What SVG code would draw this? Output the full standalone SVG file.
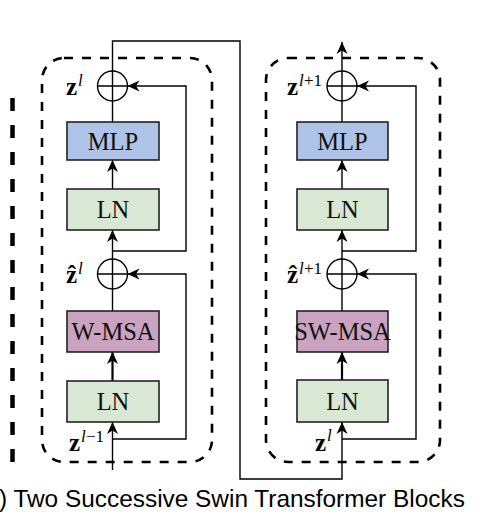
<svg xmlns="http://www.w3.org/2000/svg" width="502" height="522" viewBox="0 0 502 522">
<defs>
<marker id="arr" markerUnits="userSpaceOnUse" markerWidth="16" markerHeight="14" viewBox="-13 -7 16 14" refX="0" refY="0" orient="auto">
<path d="M0,0 L-12,-5.5 L-8.5,0 L-12,5.5 Z" fill="#000"/>
</marker>
</defs>
<style>
.blk{fill:none;stroke:#000;stroke-width:2.6;stroke-dasharray:9 9}
.box{stroke:#222;stroke-width:1.6}
.mlp{fill:#afc3e6}
.ln{fill:#d9e8d5}
.msa{fill:#c9a3bf}
.bt{font-family:"Liberation Serif",serif;font-size:24.5px;text-anchor:middle;fill:#111}
.w{fill:none;stroke:#000;stroke-width:1.4}
.wt{fill:none;stroke:#000;stroke-width:2.2}
.z{font-family:"Liberation Serif",serif;font-weight:bold;font-size:25px;fill:#000}
.s{font-family:"Liberation Serif",serif;font-style:italic;font-size:17px;fill:#000}
.sn{font-family:"Liberation Serif",serif;font-size:17px;fill:#000}
.add{fill:none;stroke:#000;stroke-width:1.4}
.cap{font-family:"Liberation Sans",Arial,sans-serif;font-size:24.4px;fill:#000}
</style>

<line x1="12.5" y1="98" x2="12.5" y2="468" stroke="#000" stroke-width="4.5" stroke-dasharray="13 14"/>

<rect id="block1" class="blk" x="42" y="58" width="170" height="404" rx="22" ry="22"/>
<rect id="block2" class="blk" x="266" y="58" width="174" height="404" rx="22" ry="22"/>

<g id="connectors">
<path class="w" d="M112.5,470 V422" marker-end="url(#arr)"/>
<path class="w" d="M112.5,439 H186 V274 H127.5" marker-end="url(#arr)"/>
<path class="wt" d="M112.5,381 V352" marker-end="url(#arr)"/>
<path class="w" d="M112.5,311 V289"/>
<path class="w" d="M112.5,259 V230" marker-end="url(#arr)"/>
<path class="w" d="M112.5,251 H186 V86 H127.5" marker-end="url(#arr)"/>
<path class="w" d="M112.5,189 V160" marker-end="url(#arr)"/>
<path class="w" d="M112.5,122 V101"/>
<path class="w" d="M112.5,71 V41 H240 V479 H342 V422" marker-end="url(#arr)"/>
<path class="w" d="M342,439 H416 V274 H357" marker-end="url(#arr)"/>
<path class="wt" d="M342,381 V352" marker-end="url(#arr)"/>
<path class="w" d="M342,311 V289"/>
<path class="w" d="M342,259 V230" marker-end="url(#arr)"/>
<path class="w" d="M342,251 H416 V86 H357" marker-end="url(#arr)"/>
<path class="w" d="M342,189 V160" marker-end="url(#arr)"/>
<path class="w" d="M342,122 V101"/>
<path class="w" d="M342,71 V42" marker-end="url(#arr)"/>
</g>

<g id="add1"><circle class="add" cx="112.5" cy="86" r="15"/><path class="add" d="M97.5,86 H127.5 M112.5,71 V101"/></g>
<g id="add2"><circle class="add" cx="112.5" cy="274" r="15"/><path class="add" d="M97.5,274 H127.5 M112.5,259 V289"/></g>
<g id="add3"><circle class="add" cx="342" cy="86" r="15"/><path class="add" d="M327,86 H357 M342,71 V101"/></g>
<g id="add4"><circle class="add" cx="342" cy="274" r="15"/><path class="add" d="M327,274 H357 M342,259 V289"/></g>

<g id="mlp1"><rect class="box mlp" x="67" y="122" width="92" height="38"/><text class="bt" x="113" y="149.5">MLP</text></g>
<g id="ln1b"><rect class="box ln" x="67" y="189" width="92" height="41"/><text class="bt" x="113" y="218">LN</text></g>
<g id="wmsa"><rect class="box msa" x="67" y="311" width="92" height="41"/><text class="bt" x="113" y="340">W-MSA</text></g>
<g id="ln1a"><rect class="box ln" x="67" y="381" width="92" height="41"/><text class="bt" x="113" y="410">LN</text></g>

<g id="mlp2"><rect class="box mlp" x="297" y="122" width="91" height="38"/><text class="bt" x="342.5" y="149.5">MLP</text></g>
<g id="ln2b"><rect class="box ln" x="297" y="189" width="91" height="41"/><text class="bt" x="342.5" y="218">LN</text></g>
<g id="swmsa"><rect class="box msa" x="297" y="311" width="91" height="41"/><text class="bt" x="342.5" y="340">SW-MSA</text></g>
<g id="ln2a"><rect class="box ln" x="297" y="380" width="91" height="42"/><text class="bt" x="342.5" y="410">LN</text></g>

<g id="labels">
<text class="z" x="66" y="95">z</text><text class="s" x="78" y="86">l</text>
<text class="z" x="66" y="283">ẑ</text><text class="s" x="78" y="274">l</text>
<text class="z" x="69" y="451">z</text><text class="s" x="81" y="442">l</text><text class="sn" x="86" y="442">−1</text>
<text class="z" x="287" y="95">z</text><text class="s" x="299" y="86">l</text><text class="sn" x="304" y="86">+1</text>
<text class="z" x="287" y="283">ẑ</text><text class="s" x="299" y="274">l</text><text class="sn" x="304" y="274">+1</text>
<text class="z" x="315" y="451">z</text><text class="s" x="327" y="441">l</text>
</g>

<text class="cap" x="-1" y="507">) Two Successive Swin Transformer Blocks</text>
</svg>
